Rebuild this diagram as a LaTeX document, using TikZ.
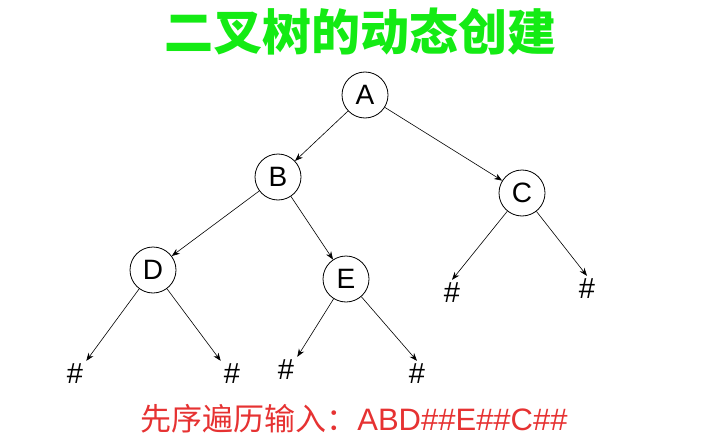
\documentclass[tikz,border=0pt]{standalone}
\usepackage{fontspec}
\usetikzlibrary{arrows.meta}
\setmainfont{Liberation Sans}
\newfontfamily\cjk{Noto Sans CJK SC}
\definecolor{tgreen}{RGB}{20,235,20}
\definecolor{tred}{RGB}{230,50,50}
\begin{document}
\begin{tikzpicture}[x=1pt,y=-1pt,
  nd/.style={circle,draw,thick,minimum size=46pt,inner sep=0pt,font=\fontsize{28}{28}\selectfont},
  hs/.style={inner sep=3pt,font=\fontsize{29}{29}\selectfont},
  ar/.style={-{Stealth[length=8pt,width=6pt]},line width=0.6pt}]
\useasboundingbox (0,0) rectangle (706,441);
\node[font=\cjk\bfseries\fontsize{49}{49}\selectfont,text=tgreen] (t) at (360,32) {二叉树的动态创建};
\node[nd] (A) at (365,95) {A};
\node[nd] (B) at (278,177) {B};
\node[nd] (C) at (522,193) {C};
\node[nd] (D) at (153,270) {D};
\node[nd] (E) at (346,279) {E};
\node[hs] (c1) at (452,293) {\#};
\node[hs] (c2) at (587,289) {\#};
\node[hs] (d1) at (75,374) {\#};
\node[hs] (d2) at (232,374) {\#};
\node[hs] (e1) at (286,370) {\#};
\node[hs] (e2) at (417,374) {\#};
\draw[ar] (A) -- (B);
\draw[ar] (A) -- (C);
\draw[ar] (B) -- (D);
\draw[ar] (B) -- (E);
\draw[ar] (C) -- (c1.north);
\draw[ar] (C) -- (c2.north);
\draw[ar] (D) -- (d1.north east);
\draw[ar] (D) -- (d2.north west);
\draw[ar] (E) -- (e1.north east);
\draw[ar] (E) -- (e2.north);
\node[text=tred,font=\fontsize{31}{31}\selectfont] (s) at (354,419) {{\cjk 先序遍历输入：}ABD\#\#E\#\#C\#\#};
\end{tikzpicture}
\end{document}
